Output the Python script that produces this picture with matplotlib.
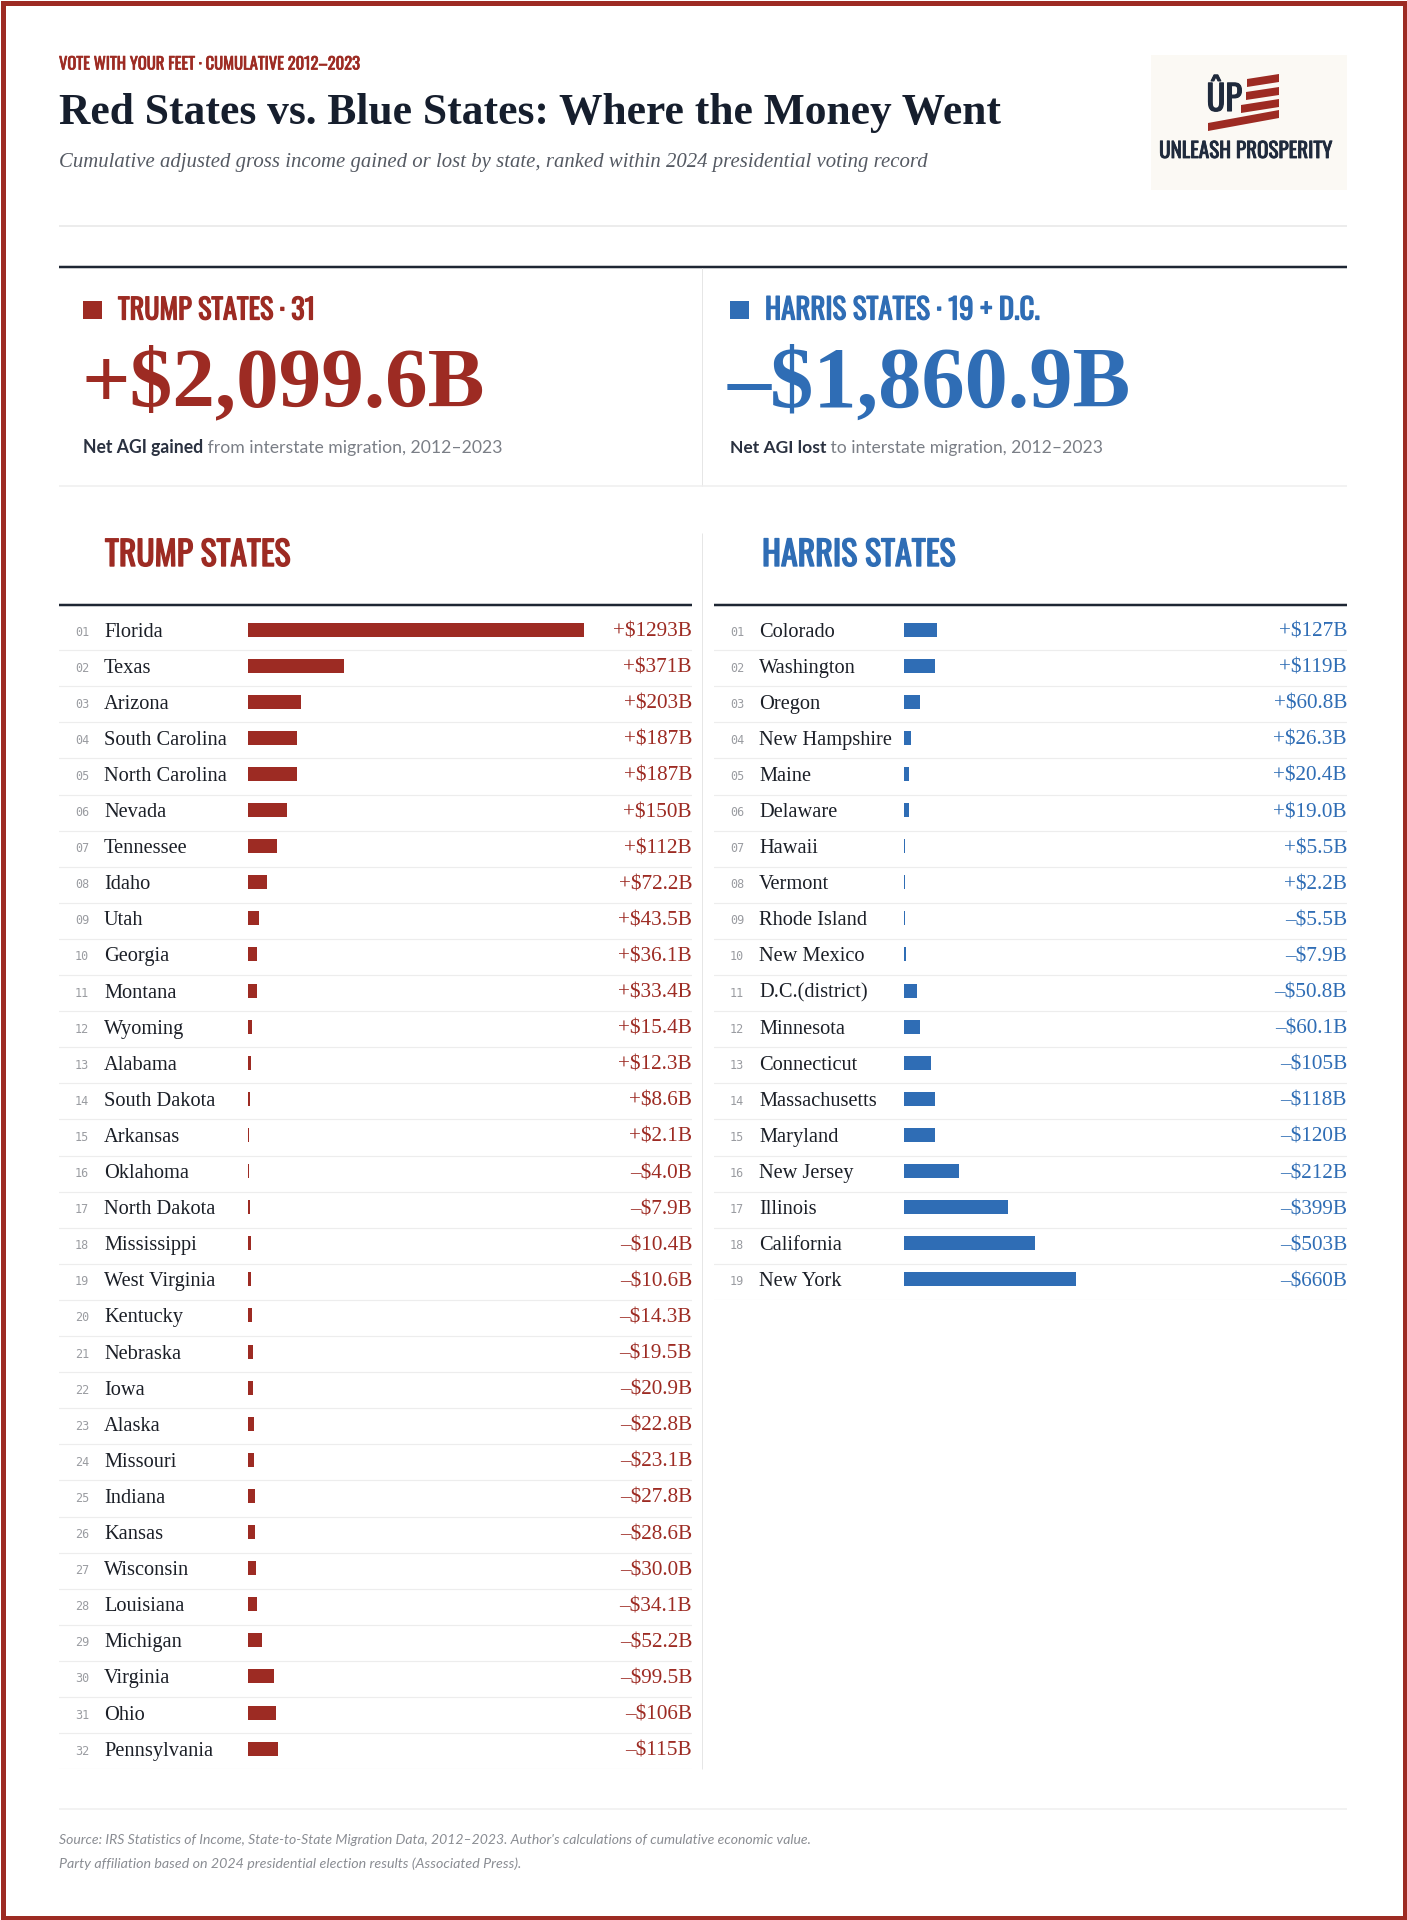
import matplotlib
matplotlib.use("Agg")
import matplotlib.pyplot as plt
import matplotlib.patheffects as pe
from matplotlib import font_manager
from matplotlib.patches import Rectangle, Polygon
from matplotlib.transforms import blended_transform_factory
import numpy as np

W, H = 1407, 1920

RED = "#9d2b23"
BLUE = "#2f6db5"
NAVY = "#161e2d"
LIGHT = "#ededed"

installed = {f.name for f in font_manager.fontManager.ttflist}
narrow = [n for n in ["Oswald", "Roboto Condensed", "Liberation Sans Narrow",
                      "Open Sans Condensed", "Liberation Sans"] if n in installed]

SERIF = ["Liberation Serif", "DejaVu Serif"]
COND = narrow[:1] + ["DejaVu Sans"]
SANS = ["Lato", "DejaVu Sans"]
MONO = ["DejaVu Sans Mono"]

trump_states = [
    "Florida", "Texas", "Arizona", "South Carolina", "North Carolina", "Nevada",
    "Tennessee", "Idaho", "Utah", "Georgia", "Montana", "Wyoming", "Alabama",
    "South Dakota", "Arkansas", "Oklahoma", "North Dakota", "Mississippi",
    "West Virginia", "Kentucky", "Nebraska", "Iowa", "Alaska", "Missouri",
    "Indiana", "Kansas", "Wisconsin", "Louisiana", "Michigan", "Virginia",
    "Ohio", "Pennsylvania",
]
trump_values = [
    1293, 371, 203, 187, 187, 150, 112, 72.2, 43.5, 36.1, 33.4, 15.4, 12.3,
    8.6, 2.1, -4.0, -7.9, -10.4, -10.6, -14.3, -19.5, -20.9, -22.8, -23.1,
    -27.8, -28.6, -30.0, -34.1, -52.2, -99.5, -106, -115,
]

harris_states = [
    "Colorado", "Washington", "Oregon", "New Hampshire", "Maine", "Delaware",
    "Hawaii", "Vermont", "Rhode Island", "New Mexico", "D.C.(district)",
    "Minnesota", "Connecticut", "Massachusetts", "Maryland", "New Jersey",
    "Illinois", "California", "New York",
]
harris_values = [
    127, 119, 60.8, 26.3, 20.4, 19.0, 5.5, 2.2, -5.5, -7.9, -50.8, -60.1,
    -105, -118, -120, -212, -399, -503, -660,
]

trump_total = "+$2,099.6B"
harris_total = "\u2013$1,860.9B"

# layout in pixels
ROW = 36.1
TOP = 614
BAR_H = 14
K = 0.26  # px per $B

fig = plt.figure(figsize=(W / 100, H / 100), dpi=100)
fig.patch.set_facecolor("white")
bg = fig.add_axes([0, 0, 1, 1])
bg.set_xlim(0, W)
bg.set_ylim(H, 0)
bg.axis("off")
renderer = fig.canvas.get_renderer()


def px(n):
    return n * 0.72


def put(x, y, s, width=None, size=10, shrink=1.0, **kw):
    kw.setdefault("va", "center")
    t = bg.text(x, y, s, fontsize=size, parse_math=False, **kw)
    if width:
        bb = t.get_window_extent(renderer)
        t.set_fontsize(size * width / bb.width * shrink)
    return t


def heavy(t, w):
    # thicken the condensed face a little
    t.set_path_effects([pe.withStroke(linewidth=w, foreground=t.get_color())])
    return t


def hline(x0, x1, y, color, w):
    bg.plot([x0, x1], [y, y], color=color, lw=px(w), solid_capstyle="butt")


def vline(x, y0, y1, color, w):
    bg.plot([x, x], [y0, y1], color=color, lw=px(w), solid_capstyle="butt")


def note(x, y, bold, rest, width):
    t1 = put(x, y, bold, size=12, family=SANS, weight="bold", color="#2a3140")
    t2 = put(x, y, rest, size=12, family=SANS, color="#7a7e86")
    w1 = t1.get_window_extent(renderer).width
    w2 = t2.get_window_extent(renderer).width
    s = width / (w1 + w2)
    t1.set_fontsize(12 * s)
    t2.set_fontsize(12 * s)
    t2.set_x(x + w1 * s)


def fmt(v):
    sign = "+" if v >= 0 else "\u2013"
    a = abs(v)
    return f"{sign}${a:.0f}B" if a >= 100 else f"{sign}${a:.1f}B"


# frame
bg.add_patch(Rectangle((2.5, 2.5), W - 5, H - 5, fill=False, ec=RED, lw=px(5)))

# header
heavy(put(59, 64, "VOTE WITH YOUR FEET \u00b7 CUMULATIVE 2012\u20132023", width=359,
          shrink=0.84, family=COND, weight="bold", color=RED), 0.5)
put(59, 113, "Red States vs. Blue States: Where the Money Went", width=947,
    family=SERIF, weight="bold", color=NAVY)
put(59, 163, "Cumulative adjusted gross income gained or lost by state, ranked within "
    "2024 presidential voting record", width=868, family=SERIF, style="italic",
    color="#555a63")

# logo
bg.add_patch(Rectangle((1151, 55), 196, 135, fc="#fbf9f4", ec="none"))
heavy(put(1242, 99, "\u00dbP", size=25, family=COND, weight="bold",
          color="#1f2a3c", ha="right"), 0.8)
for (xa, ya, xb, yb) in [(1247, 87, 1279, 82), (1246, 100, 1279, 95),
                         (1241, 113, 1279, 107), (1208, 131, 1279, 118)]:
    bg.add_patch(Polygon([(xa, ya), (xb, yb), (xb, yb - 8), (xa, ya - 8)],
                         closed=True, fc=RED, ec="none"))
heavy(put(1246, 151, "UNLEASH PROSPERITY", width=174, family=COND, weight="bold",
          color="#1f2a3c", ha="center"), 0.6)

hline(59, 1347, 226, "#e6e6e6", 1.5)
hline(59, 1347, 267, "#1e2633", 2.5)

# KPI blocks
for x0, label, lw_, total, color, bold, rest, nw in [
    (83, "TRUMP STATES \u00b7 31", 236, trump_total, RED, "Net AGI gained",
     " from interstate migration, 2012\u20132023", 419),
    (730, "HARRIS STATES \u00b7 19 + D.C.", 327, harris_total, BLUE, "Net AGI lost",
     " to interstate migration, 2012\u20132023", 370),
]:
    bg.add_patch(Rectangle((x0, 301), 19, 18, fc=color, ec="none"))
    heavy(put(x0 + 35, 310, label, width=lw_, shrink=0.84, family=COND,
              weight="bold", color=color), 0.9)
    put(x0 - 2, 386, total, width=402, family=SERIF, weight="bold", color=color)
    note(x0, 448, bold, rest, nw)

vline(702, 268, 486, "#e6e6e6", 1)
hline(59, 1347, 486, "#eeeeee", 1.5)

# section headings
heavy(put(105, 555, "TRUMP STATES", width=223, shrink=0.84, family=COND,
          weight="bold", color=RED), 1.0)
heavy(put(762, 555, "HARRIS STATES", width=232, shrink=0.84, family=COND,
          weight="bold", color=BLUE), 1.0)
vline(702, 533, 1769, "#e6e6e6", 1)

# font sizes for rows
probe = put(0, -100, "South Carolina", width=123, family=SERIF)
NAME_SIZE = probe.get_fontsize()
probe.remove()
probe = put(0, -100, "+$1293B", width=80, family=SERIF)
VAL_SIZE = probe.get_fontsize()
probe.remove()


def table(states, values, color, x0, x1, bar0):
    n = len(states)
    y1 = TOP + n * ROW
    hline(x0, x1, 605, "#1e2633", 2.5)
    ax = fig.add_axes([x0 / W, 1 - y1 / H, (x1 - x0) / W, (y1 - TOP) / H])
    ax.set_facecolor("none")
    ax.set_xlim((x0 - bar0) / K, (x1 - bar0) / K)
    ax.set_ylim(n - 0.5, -0.5)
    ax.axis("off")
    widths = np.maximum(np.abs(values), 4)
    ax.barh(np.arange(n) - 0.07, widths, left=0, height=BAR_H / ROW,
            color=color, lw=0)
    for i in range(n):
        ax.axhline(i + 0.5, color=LIGHT, lw=px(1.2))
    tr = blended_transform_factory(bg.transData, ax.transData)
    for i, (s, v) in enumerate(zip(states, values)):
        bg.text(x0 + 16, i, f"{i + 1:02d}", transform=tr, fontsize=8.5,
                family=MONO, color="#9a9ca1", va="center", parse_math=False)
        bg.text(x0 + 45, i, s, transform=tr, fontsize=NAME_SIZE, family=SERIF,
                color="#1b1f27", va="center", parse_math=False)
        bg.text(x1, i, fmt(v), transform=tr, fontsize=VAL_SIZE, family=SERIF,
                color=color, va="center", ha="right", parse_math=False)


table(trump_states, trump_values, RED, 59, 692, 248)
table(harris_states, harris_values, BLUE, 714, 1347, 904)

# footer
hline(59, 1347, 1809, "#eeeeee", 1.5)
put(59, 1840, "Source: IRS Statistics of Income, State-to-State Migration Data, "
    "2012\u20132023. Author's calculations of cumulative economic value.",
    width=750, family=SANS, style="italic", color="#8a8d93")
put(59, 1864, "Party affiliation based on 2024 presidential election results "
    "(Associated Press).", width=461, family=SANS, style="italic", color="#8a8d93")

fig.savefig("out.png", dpi=100, facecolor="white")
